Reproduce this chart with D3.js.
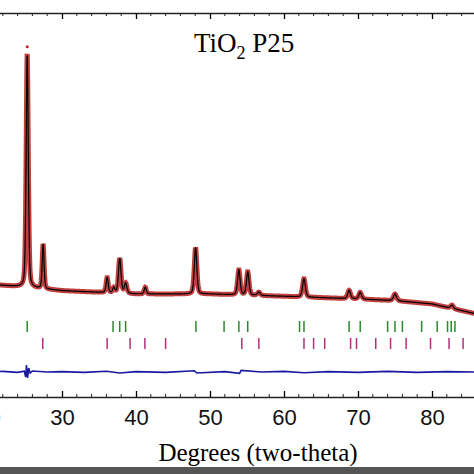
<!DOCTYPE html>
<html><head><meta charset="utf-8">
<script src="https://cdn.jsdelivr.net/npm/d3@7"></script>
<style>body{margin:0;background:#fff}</style></head>
<body><div id="chart"></div>
<script>
// Background points (deg, intensity)
const baseline = [[20,26.5],[25,25.5],[30,24.5],[40,23.5],[50,23.5],[60,22.8],[70,22],[75,21.5],[80,20.5],[83,19],[86,17.5]];
// Reflections: position, height above background, width
const peaks = [[25.3,70.5,0.15],[27.45,13.5,0.13],[36.1,4.5,0.15],[37.0,1.5,0.15],[37.8,10.5,0.18],[38.6,3,0.18],
  [41.25,2,0.15],[48.05,14,0.18],[53.9,7.5,0.18],[55.1,7,0.18],[56.6,1,0.2],[62.7,5.5,0.2],[68.8,2.5,0.2],[70.3,2,0.2],[75.0,2,0.22],[82.7,1,0.2]];
const anataseTicks = [25.3,36.9,37.8,38.6,48.1,51.9,53.9,55.1,62.1,62.7,68.8,70.3,74.0,75.0,76.0,78.6,80.7,82.1,82.6,83.1];
const rutileTicks = [27.4,36.1,39.2,41.2,44.0,54.3,56.6,62.7,64.0,65.5,69.0,69.8,72.4,74.4,76.5,79.8,82.3,84.2];
// residual (deg, value)
const residual = [[20,0],[22,0.3],[24,-0.2],[24.9,0.4],[25.1,-2.5],[25.2,3.5],[25.35,-3],[25.5,2],[25.7,-0.5],[26,0.5],[28,0],[30,0.2],[33,-0.2],[36,0.4],[37.8,-0.5],[40,0.2],
  [44,-0.2],[47.9,0.6],[48.2,-0.5],[52,0.2],[54,-0.7],[54.2,0.8],[57,0],[60,0.3],[62.7,-0.4],[66,0.2],[70,-0.2],[74,0.3],[78,-0.2],[82,0.2],[86,0]];
const xTicks = [20,30,40,50,60,70,80];

const W = 474, H = 474;
const x = d3.scaleLinear().domain([20, 86]).range([-12, 476.4]);
const y = d3.scaleLinear().domain([0, 100]).range([372, 40]);
const bg = d3.scaleLinear().domain(baseline.map(d => d[0])).range(baseline.map(d => d[1]));

const obs = d3.range(20, 86, 0.04).map(t => {
  let v = bg(t);
  peaks.forEach(([p, h, w]) => { const z = (t - p) / w; v += h * (0.6 * Math.exp(-z * z / 2) + 0.4 / (1 + z * z)); });
  return [t, v];
});

const svg = d3.select("#chart").append("svg").attr("width", W).attr("height", H)
  .style("font-family", "Liberation Serif");

const line = d3.line().x(d => x(d[0])).y(d => y(d[1]));
svg.append("path").datum(obs).attr("d", line).attr("fill", "none").attr("stroke", "#b01010").attr("stroke-width", 5).attr("opacity", 0.8);
svg.append("path").datum(obs).attr("d", line).attr("fill", "none").attr("stroke", "#000").attr("stroke-width", 1.2);
svg.append("circle").attr("cx", x(25.3)).attr("cy", y(98)).attr("r", 1.5).attr("fill", "#c02020");

svg.selectAll(".ga").data(anataseTicks).enter().append("line")
  .attr("x1", d => x(d)).attr("x2", d => x(d)).attr("y1", 321).attr("y2", 332)
  .attr("stroke", "#2a8a2a").attr("stroke-width", 1.5);
svg.selectAll(".ru").data(rutileTicks).enter().append("line")
  .attr("x1", d => x(d)).attr("x2", d => x(d)).attr("y1", 338).attr("y2", 349)
  .attr("stroke", "#b0307a").attr("stroke-width", 1.5);

const ry = d3.scaleLinear().domain([-5, 5]).range([382, 362]);
svg.append("path").datum(residual).attr("d", d3.line().x(d => x(d[0])).y(d => ry(d[1])))
  .attr("fill", "none").attr("stroke", "#1a1aa0").attr("stroke-width", 1.6);

const bottomAxis = svg.append("g").attr("transform", "translate(0,397)")
  .call(d3.axisBottom(x).tickValues(xTicks).tickSize(-6).tickPadding(12).tickFormat(d3.format("d")));
const topAxis = svg.append("g").attr("transform", "translate(0,13)")
  .call(d3.axisTop(x).tickValues(xTicks).tickSize(-6).tickFormat(""));
[bottomAxis, topAxis].forEach(g => {
  g.select(".domain").attr("stroke", "#222").attr("stroke-width", 1.3);
  g.selectAll("line").attr("stroke-width", 1.3);
  g.selectAll("text").style("font-family", "Liberation Sans").style("font-size", "22px").attr("fill", "#111");
});
const minor = d3.range(20, 87, 2).filter(d => d % 10);
svg.selectAll(".mb").data(minor).enter().append("line").attr("x1", d => x(d)).attr("x2", d => x(d)).attr("y1", 397).attr("y2", 394).attr("stroke", "#222");
svg.selectAll(".mt").data(minor).enter().append("line").attr("x1", d => x(d)).attr("x2", d => x(d)).attr("y1", 13).attr("y2", 16).attr("stroke", "#222");

svg.append("text").attr("x", 258).attr("y", 461).attr("text-anchor", "middle").style("font-size", "25px").text("Degrees (two-theta)");
const title = svg.append("text").attr("x", 194).attr("y", 52).style("font-size", "27px");
title.append("tspan").text("TiO");
title.append("tspan").attr("dy", 7).style("font-size", "18px").text("2");
title.append("tspan").attr("dy", -7).text(" P25");

svg.append("rect").attr("x", 0).attr("y", 467).attr("width", W).attr("height", 7).attr("fill", "#555");
</script></body></html>
